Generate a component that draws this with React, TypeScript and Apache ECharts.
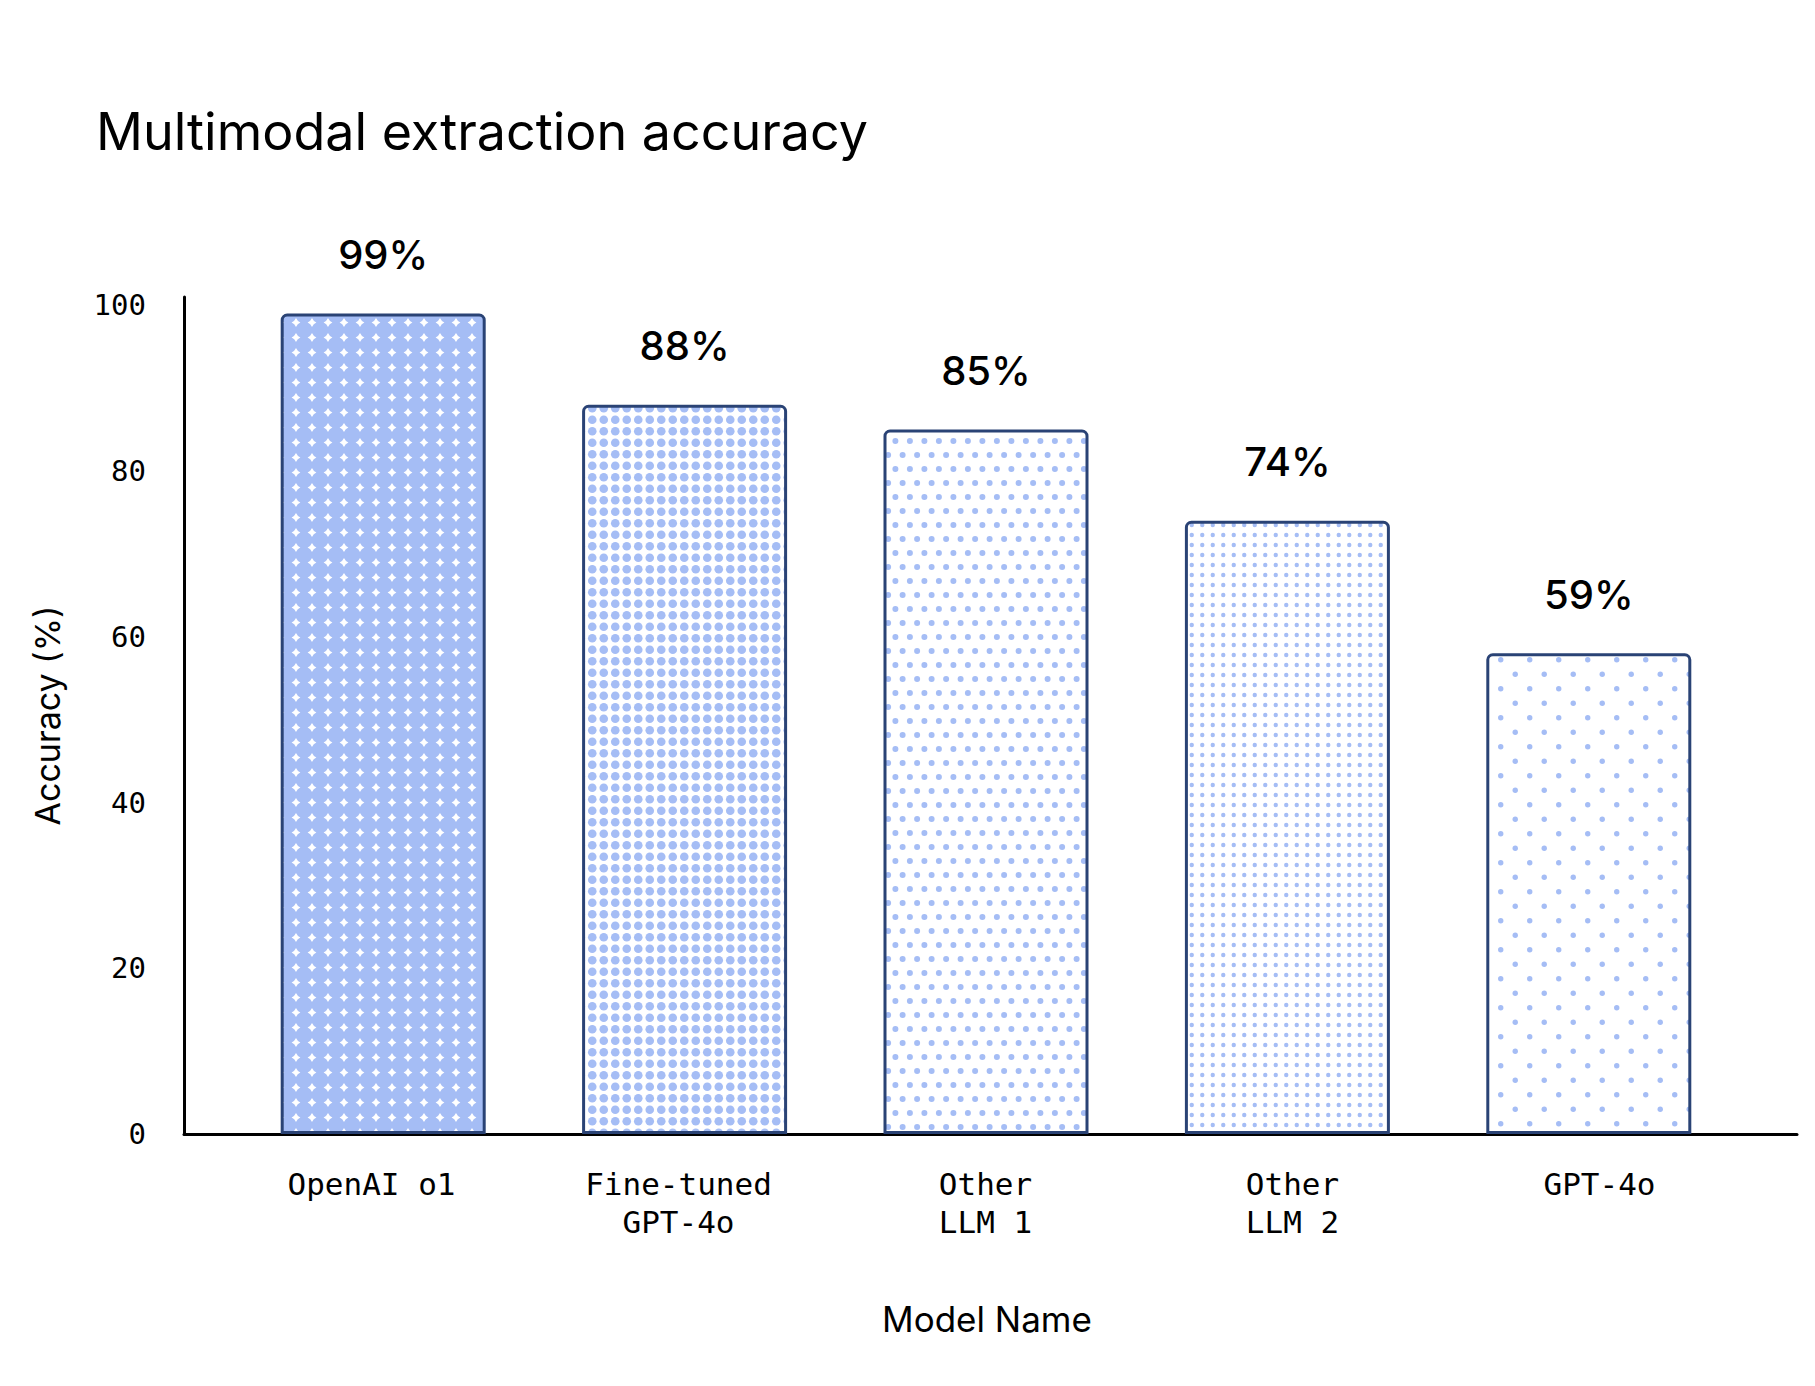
import React, { useEffect, useRef } from "react";
import * as echarts from "echarts";

const models = ["OpenAI o1", "Fine-tuned\nGPT-4o", "Other\nLLM 1", "Other\nLLM 2", "GPT-4o"];
const accuracy = [99, 88, 85, 74, 58];
const accuracyLabels = ["99%", "88%", "85%", "74%", "59%"];
const yTicks = [0, 20, 40, 60, 80, 100];

const BLUE = "#a5bdf5";
const NAVY = "#2a4375";

type Dot = [number, number];

// draws one repeating tile, returns an echarts image pattern
const makePattern = (
  w: number,
  h: number,
  bg: string,
  fg: string,
  dots: Dot[],
  r: number,
  star = false
) => {
  const c = document.createElement("canvas");
  c.width = w;
  c.height = h;
  const ctx = c.getContext("2d")!;
  ctx.fillStyle = bg;
  ctx.fillRect(0, 0, w, h);
  ctx.fillStyle = fg;
  dots.forEach(([x, y]) => {
    ctx.beginPath();
    if (star) {
      const k = r * 0.3;
      ctx.moveTo(x, y - r);
      ctx.quadraticCurveTo(x + k, y - k, x + r, y);
      ctx.quadraticCurveTo(x + k, y + k, x, y + r);
      ctx.quadraticCurveTo(x - k, y + k, x - r, y);
      ctx.quadraticCurveTo(x - k, y - k, x, y - r);
    } else {
      ctx.arc(x, y, r, 0, Math.PI * 2);
    }
    ctx.fill();
  });
  return {
    image: c.toDataURL(),
    imageWidth: w,
    imageHeight: h,
    repeat: "repeat",
  };
};

const App: React.FC = () => {
  const chartRef = useRef<HTMLDivElement>(null);

  useEffect(() => {
    document.body.style.margin = "0";
    if (!chartRef.current) return;
    const chart = echarts.init(chartRef.current, null, { renderer: "svg" });

    const patterns = [
      makePattern(16, 15, BLUE, "#ffffff", [[8, 7.5]], 4.4, true),
      makePattern(23, 23, "#ffffff", BLUE, [[5.75, 5.75], [17.25, 5.75], [5.75, 17.25], [17.25, 17.25]], 4.3),
      makePattern(29, 28, "#ffffff", BLUE, [[3.6, 7], [18.1, 7], [10.9, 21], [25.4, 21]], 3),
      makePattern(21, 10, "#ffffff", BLUE, [[5.25, 5], [15.75, 5]], 2.2),
      makePattern(29, 29, "#ffffff", BLUE, [[7.25, 7.25], [21.75, 21.75]], 2.7),
    ];

    const hidden = { show: false };
    const axisFont = { fontFamily: "Inter", fontSize: 35, color: "#000" };
    const monoFont = { fontFamily: "DejaVu Sans Mono", color: "#000" };

    chart.setOption({
      animation: false,
      backgroundColor: "#ffffff",
      title: {
        text: "Multimodal extraction accuracy",
        left: 91,
        top: 100,
        textStyle: { fontFamily: "Inter", fontSize: 52, fontWeight: 400, color: "#000" },
      },
      grid: [
        { left: 184, top: 297, width: 1613, height: 837 },
        { left: 232.5, top: 297, width: 1507, height: 837 },
        { left: 218, top: 297, width: 1535, height: 837 },
      ],
      xAxis: [
        {
          gridIndex: 0,
          type: "value",
          min: 0,
          max: 1,
          axisLine: { show: true, lineStyle: { color: "#000", width: 3 } },
          axisTick: hidden,
          axisLabel: hidden,
          splitLine: hidden,
          name: "Model Name",
          nameLocation: "middle",
          nameGap: 167,
          nameTextStyle: { ...axisFont, padding: [0, 7, 0, 0] },
        },
        { gridIndex: 1, type: "category", data: models, show: false },
        {
          gridIndex: 2,
          type: "category",
          data: models,
          axisLine: hidden,
          axisTick: hidden,
          axisLabel: { ...monoFont, fontSize: 31, margin: 31, lineHeight: 38 },
        },
      ],
      yAxis: [
        {
          gridIndex: 0,
          type: "value",
          min: 0,
          max: 101,
          interval: 20,
          axisLine: { show: true, lineStyle: { color: "#000", width: 3 } },
          axisTick: hidden,
          splitLine: hidden,
          axisLabel: {
            ...monoFont,
            fontSize: 29,
            margin: 38,
            customValues: yTicks,
          },
          name: "Accuracy (%)",
          nameLocation: "middle",
          nameGap: 120,
          nameTextStyle: { ...axisFont, fontSize: 34 },
        },
        { gridIndex: 1, type: "value", min: 0, max: 101, show: false },
        { gridIndex: 2, type: "value", min: 0, max: 101, show: false },
      ],
      series: [
        {
          type: "bar",
          xAxisIndex: 1,
          yAxisIndex: 1,
          barWidth: 205,
          data: accuracy.map((v, i) => ({
            value: v,
            itemStyle: { color: patterns[i] },
          })),
          itemStyle: {
            borderColor: NAVY,
            borderWidth: 3,
            borderRadius: [5, 5, 0, 0],
          },
          label: {
            show: true,
            position: "top",
            distance: 39,
            formatter: (p: any) => accuracyLabels[p.dataIndex],
            fontFamily: "Inter",
            fontSize: 40,
            fontWeight: 500,
            color: "#000",
          },
        },
      ],
    });

    return () => {
      chart.dispose();
    };
  }, []);

  return <div ref={chartRef} style={{ width: 1815, height: 1386 }} />;
};

export default App;
